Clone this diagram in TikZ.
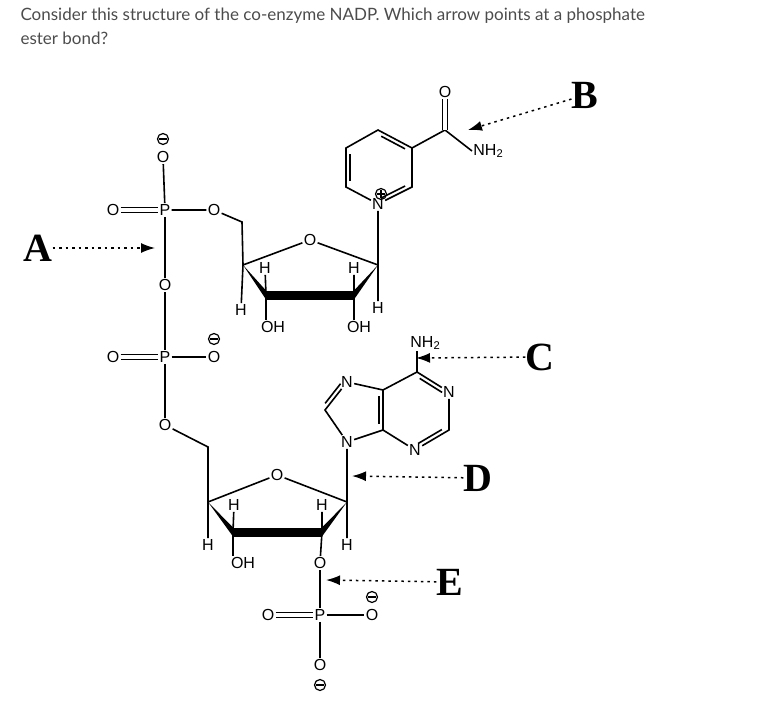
\documentclass[tikz,border=0pt]{standalone}
\usepackage{fontspec}
\setmainfont{Liberation Sans}
\newfontfamily\letterfont{Liberation Serif}
\newfontfamily\titlefont{Lato}
\usetikzlibrary{calc,arrows.meta}
\tikzset{
  atom/.style={inner sep=1.2pt,font=\fontsize{16}{16}\selectfont},
  bond/.style={line width=1.6pt},
  dbond/.style={line width=1pt,double,double distance=3.4pt},
  minus/.style={circle,draw,line width=1.2pt,minimum size=11pt,inner sep=0pt,
    path picture={\draw[line width=1.2pt] ([xshift=-4pt]path picture bounding box.center) -- ([xshift=4pt]path picture bounding box.center);}},
  plus/.style={minus,path picture={\draw[line width=1.2pt] ([xshift=-4pt]path picture bounding box.center) -- ([xshift=4pt]path picture bounding box.center) ([yshift=-4pt]path picture bounding box.center) -- ([yshift=4pt]path picture bounding box.center);}},
  pointer/.style={line width=1.5pt,dash pattern=on 2.5pt off 4pt,-{Latex[length=14pt,width=10pt]}},
  letter/.style={font=\letterfont\bfseries\fontsize{40}{40}\selectfont,inner sep=0pt}
}
\newcommand{\innerline}[3]{\draw[bond] ($(#1)!0.15!(#2)!4pt!#3:(#2)$) -- ($(#2)!0.15!(#1)!4pt!-#3:(#1)$);}
\begin{document}
\begin{tikzpicture}[x=1pt,y=-1pt]
\useasboundingbox (0,0) rectangle (766,706);
\node[anchor=west,text=black!70,font=\titlefont\fontsize{17}{17}\selectfont] (q1) at (17,16) {Consider this structure of the co-enzyme NADP. Which arrow points at a phosphate};
\node[anchor=west,text=black!70,font=\titlefont\fontsize{17}{17}\selectfont] (q2) at (17,38) {ester bond?};
% top phosphate
\node[atom] (o1) at (163,157) {O};
\node[minus] (m1) at (163,139) {};
\node[atom] (p1) at (165,210) {P};
\node[atom] (o2) at (113,210) {O};
\node[atom] (o3) at (214,210) {O};
\node[atom] (o4) at (165,285) {O};
\node[atom] (p2) at (165,357) {P};
\node[atom] (o5) at (113,357) {O};
\node[atom] (o6) at (214,357) {O};
\node[minus] (m2) at (214,339) {};
\node[atom] (o7) at (165,425) {O};
\draw[bond] (o1) -- (p1) -- (o3);
\draw[bond] (p1) -- (o4) -- (p2) -- (o6);
\draw[bond] (p2) -- (o7);
\draw[dbond] (o2) -- (p1);
\draw[dbond] (o5) -- (p2);
% upper ribose
\coordinate (c5a) at (242,222);
\coordinate (c4a) at (243,265);
\coordinate (c3a) at (266,295);
\coordinate (c2a) at (354,295);
\coordinate (c1a) at (378,265);
\node[atom] (ra) at (310,240) {O};
\node[atom] (h3a) at (265,268) {H};
\node[atom] (h2a) at (354,268) {H};
\node[atom] (h4a) at (241,310) {H};
\node[atom] (h1a) at (378,308) {H};
\node[atom] (oh3a) at (273,327) {OH};
\node[atom] (oh2a) at (359,327) {OH};
\draw[bond] (o3) -- (c5a) -- (c4a) -- (ra) -- (c1a);
\draw[bond] (c4a) -- (h4a) (c1a) -- (h1a) (c3a) -- (h3a) (c2a) -- (h2a);
\draw[bond] (c3a) -- (oh3a.north -| c3a) (c2a) -- (oh2a.north -| c2a);
\fill (c4a) -- ([yshift=-4.5pt]c3a) -- ([yshift=4.5pt]c3a) -- cycle;
\fill (c1a) -- ([yshift=-4.5pt]c2a) -- ([yshift=4.5pt]c2a) -- cycle;
\draw[line width=9pt] (c3a) -- (c2a);
% nicotinamide
\node[atom] (n1) at (378,204) {N};
\node[plus] (pl) at (381,194) {};
\coordinate (r2) at (346,187);
\coordinate (r3) at (346,148);
\coordinate (r4) at (378,130);
\coordinate (r5) at (412,148);
\coordinate (r6) at (412,187);
\coordinate (cam) at (445,130);
\node[atom] (oam) at (445,92) {O};
\node[atom,anchor=west] (nam) at (472,151) {NH\textsubscript{2}};
\draw[bond] (c1a) -- (n1) -- (r2) -- (r3) -- (r4) -- (r5) -- (r6) -- (n1);
\innerline{r2}{r3}{-90}
\innerline{r4}{r5}{-90}
\innerline{r6}{n1}{-90}
\draw[bond] (r5) -- (cam) -- (nam.west);
\draw[dbond] (cam) -- (oam);
% lower ribose
\coordinate (c5b) at (208,447);
\coordinate (c4b) at (208,502);
\coordinate (c3b) at (233,532);
\coordinate (c2b) at (322,532);
\coordinate (c1b) at (347,502);
\node[atom] (rb) at (277,475) {O};
\node[atom] (h3b) at (234,505) {H};
\node[atom] (h2b) at (322,505) {H};
\node[atom] (h4b) at (208,545) {H};
\node[atom] (h1b) at (347,545) {H};
\node[atom] (oh3b) at (243,563) {OH};
\node[atom] (o2b) at (320,563) {O};
\draw[bond] (o7) -- (c5b) -- (c4b) -- (rb) -- (c1b);
\draw[bond] (c4b) -- (h4b) (c1b) -- (h1b) (c3b) -- (h3b) (c2b) -- (h2b);
\draw[bond] (c3b) -- (oh3b.north -| c3b) (c2b) -- (o2b);
\fill (c4b) -- ([yshift=-4.5pt]c3b) -- ([yshift=4.5pt]c3b) -- cycle;
\fill (c1b) -- ([yshift=-4.5pt]c2b) -- ([yshift=4.5pt]c2b) -- cycle;
\draw[line width=9pt] (c3b) -- (c2b);
% adenine
\node[atom] (n9) at (347,442) {N};
\coordinate (c8) at (325,410);
\node[atom] (n7) at (347,382) {N};
\coordinate (c5) at (383,390);
\coordinate (c4) at (383,430);
\coordinate (c6) at (417,372);
\node[atom,anchor=west] (na) at (409,343) {NH\textsubscript{2}};
\node[atom] (n1a) at (449,392) {N};
\coordinate (c2) at (449,430);
\node[atom] (n3) at (415,450) {N};
\draw[bond] (c1b) -- (n9) -- (c8) -- (n7) -- (c5) -- (c4) -- (n9);
\draw[bond] (c5) -- (c6) -- (n1a) -- (c2) -- (n3) -- (c4);
\draw[bond] (c6) -- (c6 |- na.south);
\innerline{c8}{n7}{90}
\innerline{c5}{c4}{-90}
\innerline{c6}{n1a}{-90}
\innerline{c2}{n3}{-90}
% 2' phosphate
\node[atom] (p3) at (320,615) {P};
\node[atom] (o8) at (268,615) {O};
\node[atom] (o9) at (372,615) {O};
\node[minus] (m3) at (372,597) {};
\node[atom] (o10) at (320,665) {O};
\node[minus] (m4) at (320,685) {};
\draw[bond] (o2b) -- (p3) -- (o9) (p3) -- (o10);
\draw[dbond] (o8) -- (p3);
% arrows
\node[letter] (la) at (38,248) {A};
\node[letter] (lb) at (585,95) {B};
\node[letter] (lc) at (540,357) {C};
\node[letter] (ld) at (478,478) {D};
\node[letter] (le) at (450,582) {E};
\coordinate (ta) at (155,248);
\coordinate (tb) at (468,130);
\coordinate (tc) at (416,358);
\coordinate (td) at (352,476);
\coordinate (te) at (326,580);
\draw[pointer] (la) -- (ta);
\draw[pointer] (lb) -- (tb);
\draw[pointer] (lc) -- (tc);
\draw[pointer] (ld) -- (td);
\draw[pointer] (le) -- (te);
\end{tikzpicture}
\end{document}
